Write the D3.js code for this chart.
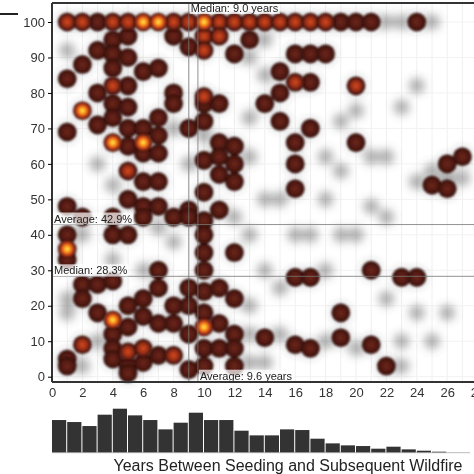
<!DOCTYPE html>
<html><head><meta charset="utf-8">
<script src="https://cdn.jsdelivr.net/npm/d3@7"></script>
<style>body{margin:0;background:#fff}svg{display:block;font-family:"Liberation Sans",Arial,sans-serif}</style>
</head><body><div id="chart"></div>
<script>
const width = 474, height = 474;

// [years, percent, level]  level: 0 faint, 1 dark, 2 warm, 3 hot
const points = [
  [1,100,2],[1,92,0],[1,84,1],[1,69,1],[1,48,1],[1,40,1],[1,36,3],[1,33,1],[1,22,0],[1,18,0],[1,5,1],[1,3,1],
  [2,100,2],[2,88,1],[2,75,3],[2,45,1],[2,40,0],[2,26,1],[2,22,1],[2,9,2],[2,3,0],
  [3,100,1],[3,92,1],[3,80,1],[3,71,1],[3,26,1],[3,18,1],[3,10,0],[3,60,0],
  [4,100,2],[4,95,1],[4,91,1],[4,87,1],[4,82,2],[4,77,1],[4,73,1],[4,66,3],[4,54,0],[4,45,1],[4,40,1],[4,33,0],[4,27,1],[4,16,3],[4,12,1],[4,8,1],[4,5,1],
  [5,100,2],[5,96,1],[5,90,1],[5,82,1],[5,76,1],[5,70,1],[5,65,1],[5,58,2],[5,50,1],[5,40,1],[5,20,1],[5,14,1],[5,7,2],[5,3,1],[5,1,1],
  [6,100,3],[6,86,1],[6,70,1],[6,66,3],[6,63,1],[6,55,1],[6,48,1],[6,45,1],[6,30,0],[6,22,1],[6,17,1],[6,8,2],[6,4,1],
  [7,100,3],[7,87,1],[7,73,1],[7,68,1],[7,63,1],[7,55,1],[7,48,1],[7,42,0],[7,30,1],[7,25,1],[7,15,1],[7,6,1],
  [8,100,2],[8,96,1],[8,80,1],[8,77,1],[8,70,0],[8,45,1],[8,38,0],[8,20,1],[8,15,1],[8,6,2],
  [9,100,2],[9,93,1],[9,70,1],[9,60,0],[9,47,1],[9,45,1],[9,25,1],[9,20,1],[9,12,1],[9,2,1],
  [10,100,3],[10,96,2],[10,92,2],[10,79,2],[10,77,1],[10,72,1],[10,68,0],[10,61,1],[10,52,1],[10,44,1],[10,40,1],[10,35,1],[10,30,1],[10,24,1],[10,18,1],[10,14,3],[10,8,1],[10,3,1],
  [11,100,2],[11,96,2],[11,77,1],[11,66,1],[11,62,1],[11,57,1],[11,47,1],[11,25,1],[11,15,1],[11,8,1],
  [12,100,2],[12,91,1],[12,65,1],[12,60,1],[12,55,1],[12,45,0],[12,35,1],[12,22,1],[12,12,1],[12,8,1],[12,3,1],
  [13,100,2],[13,95,1],[13,90,0],[13,73,0],[13,62,0],[13,40,0],[13,20,0],[13,12,0],[13,4,0],
  [14,100,2],[14,95,0],[14,85,0],[14,77,1],[14,50,0],[14,30,0],[14,11,1],[14,4,0],
  [15,100,2],[15,86,1],[15,80,1],[15,72,1],[15,50,0],[15,25,0],[15,12,0],
  [16,100,2],[16,91,1],[16,83,2],[16,66,1],[16,60,1],[16,53,1],[16,40,0],[16,28,1],[16,9,1],
  [17,100,2],[17,91,1],[17,83,1],[17,70,1],[17,28,1],[17,8,1],[17,40,0],
  [18,100,2],[18,91,1],[18,50,0],[18,30,0],[18,10,0],[18,62,0],
  [19,100,1],[19,72,0],[19,40,0],[19,18,1],[19,11,1],[19,58,0],
  [20,100,1],[20,82,2],[20,66,1],[20,40,0],[20,8,0],[20,75,0],
  [21,100,1],[21,30,1],[21,9,1],[21,48,0],[21,62,0],
  [22,100,0],[22,62,0],[22,22,0],[22,3,1],[22,45,0],
  [23,100,0],[23,10,0],[23,3,0],[23,28,1],[23,76,0],
  [24,100,1],[24,82,0],[24,28,1],[24,18,0],[24,55,0],
  [25,100,0],[25,54,1],[25,58,0],[25,10,0],
  [26,60,1],[26,56,0],[26,53,1],[26,18,0],
  [27,62,1],[27,56,0]
];

// histogram bars: years 0..25
const histYears = d3.range(0, 26);
const histCounts = [49,46,40,57,66,56,49,35,45,60,49,49,33,26,26,35,34,21,14,11,10,6,9,5,3,1.5];

const yTicks = d3.range(0, 101, 10);
const xTicks = d3.range(0, 29, 2);
const refLines = { medianYears: 9.0, avgYears: 9.6, avgPct: 42.9, medianPct: 28.3 };

const x = d3.scaleLinear().domain([0, 28]).range([52, 477.6]);
const y = d3.scaleLinear().domain([0, 100]).range([376.7, 22]);
const plotTop = 3, plotBottom = 382;

const svg = d3.select("#chart").append("svg").attr("width", width).attr("height", height);
const defs = svg.append("defs");
defs.append("filter").attr("id", "blur").attr("x", "-1").attr("y", "-1").attr("width", "3").attr("height", "3")
  .append("feGaussianBlur").attr("stdDeviation", 4);
defs.append("filter").attr("id", "soft").attr("x", "-1").attr("y", "-1").attr("width", "3").attr("height", "3")
  .append("feGaussianBlur").attr("stdDeviation", 0.8);

function grad(id, stops) {
  const g = defs.append("radialGradient").attr("id", id);
  stops.forEach(([o, c]) => g.append("stop").attr("offset", o).attr("stop-color", c));
}
grad("g1", [["0%", "#6e2618"], ["75%", "#4a1610"], ["100%", "#2a0c08"]]);
grad("g2", [["0%", "#d84a1e"], ["55%", "#922c14"], ["85%", "#4a1610"], ["100%", "#2a0c08"]]);
grad("g3", [["0%", "#fff060"], ["25%", "#ffb020"], ["55%", "#e0501c"], ["85%", "#6a1e10"], ["100%", "#2a0c08"]]);

// light grid
svg.append("g").selectAll("line").data(d3.range(1, 28)).join("line")
  .attr("x1", d => x(d)).attr("x2", d => x(d)).attr("y1", plotTop).attr("y2", plotBottom)
  .attr("stroke", "#f0f0f0");
svg.append("g").selectAll("line").data(yTicks).join("line")
  .attr("x1", x(0)).attr("x2", width).attr("y1", d => y(d)).attr("y2", d => y(d))
  .attr("stroke", "#f2f2f2");

// faint points
svg.append("g").attr("filter", "url(#blur)").selectAll("circle")
  .data(points.filter(d => d[2] === 0)).join("circle")
  .attr("cx", d => x(d[0])).attr("cy", d => y(d[1])).attr("r", 8)
  .attr("fill", "#555").attr("opacity", 0.45);
// halos for all stronger points
svg.append("g").attr("filter", "url(#blur)").selectAll("circle")
  .data(points.filter(d => d[2] > 0)).join("circle")
  .attr("cx", d => x(d[0])).attr("cy", d => y(d[1])).attr("r", 9)
  .attr("fill", "#444").attr("opacity", 0.35);
// strong points, drawn by level
[1, 2, 3].forEach(l => {
  svg.append("g").attr("filter", "url(#soft)").selectAll("circle")
    .data(points.filter(d => d[2] === l)).join("circle")
    .attr("cx", d => x(d[0])).attr("cy", d => y(d[1])).attr("r", 9.3)
    .attr("fill", `url(#g${l})`);
});

// reference lines
const refG = svg.append("g").attr("stroke", "#777").attr("stroke-width", 0.8);
[refLines.medianYears, refLines.avgYears].forEach(v =>
  refG.append("line").attr("x1", x(v)).attr("x2", x(v)).attr("y1", plotTop).attr("y2", plotBottom));
[refLines.avgPct, refLines.medianPct].forEach(v =>
  refG.append("line").attr("x1", x(0)).attr("x2", width).attr("y1", y(v)).attr("y2", y(v)));

function label(tx, ty, txt) {
  const t = svg.append("text").attr("x", tx).attr("y", ty).attr("font-size", 11).attr("fill", "#222").text(txt);
  const b = t.node().getBBox();
  svg.insert("rect", () => t.node()).attr("x", b.x - 1).attr("y", b.y).attr("width", b.width + 2)
    .attr("height", b.height).attr("fill", "#fff").attr("opacity", 0.7);
}
label(x(refLines.medianYears) + 2, 12, `Median: ${refLines.medianYears.toFixed(1)} years`);
label(x(0) + 2, y(refLines.avgPct) - 2, `Average: ${refLines.avgPct}%`);
label(x(0) + 2, y(refLines.medianPct) - 2, `Median: ${refLines.medianPct}%`);
label(x(refLines.avgYears) + 2, y(0) + 3, `Average: ${refLines.avgYears} years`);

// frame
svg.append("line").attr("x1", x(0)).attr("x2", width).attr("y1", plotTop).attr("y2", plotTop)
  .attr("stroke", "#333").attr("stroke-width", 2);
svg.append("line").attr("x1", 0).attr("x2", 18).attr("y1", 14).attr("y2", 14)
  .attr("stroke", "#222").attr("stroke-width", 2);

// axes
const yAx = svg.append("g").attr("transform", `translate(${x(0)},0)`)
  .call(d3.axisLeft(y).tickValues(yTicks).tickSize(4).tickPadding(3));
yAx.select(".domain").attr("d", `M0,${plotTop}V${plotBottom}`).attr("stroke", "#333").attr("stroke-width", 2);
yAx.selectAll("text").attr("font-size", 13).attr("fill", "#333").attr("font-family", "Liberation Sans, Arial");

const xAx = svg.append("g").attr("transform", `translate(0,${plotBottom})`)
  .call(d3.axisBottom(x).tickValues(xTicks).tickSize(0).tickPadding(6));
xAx.select(".domain").attr("d", `M${x(0)},0H${width}`).attr("stroke", "#333").attr("stroke-width", 2);
xAx.selectAll("text").attr("font-size", 13).attr("fill", "#333").attr("font-family", "Liberation Sans, Arial");

// histogram
const hy = d3.scaleLinear().domain([0, 66]).range([452.7, 408.7]);
svg.append("g").selectAll("rect").data(histYears).join("rect")
  .attr("x", d => x(d)).attr("width", x(1) - x(0) - 1)
  .attr("y", (d, i) => hy(histCounts[i])).attr("height", (d, i) => hy(0) - hy(histCounts[i]))
  .attr("fill", "#333");
svg.append("line").attr("x1", x(0)).attr("x2", 470).attr("y1", hy(0)).attr("y2", hy(0))
  .attr("stroke", "#aaa").attr("stroke-width", 0.8);

svg.append("text").attr("x", 288).attr("y", 471).attr("text-anchor", "middle")
  .attr("font-size", 16).attr("fill", "#222").text("Years Between Seeding and Subsequent Wildfire");
</script></body></html>
